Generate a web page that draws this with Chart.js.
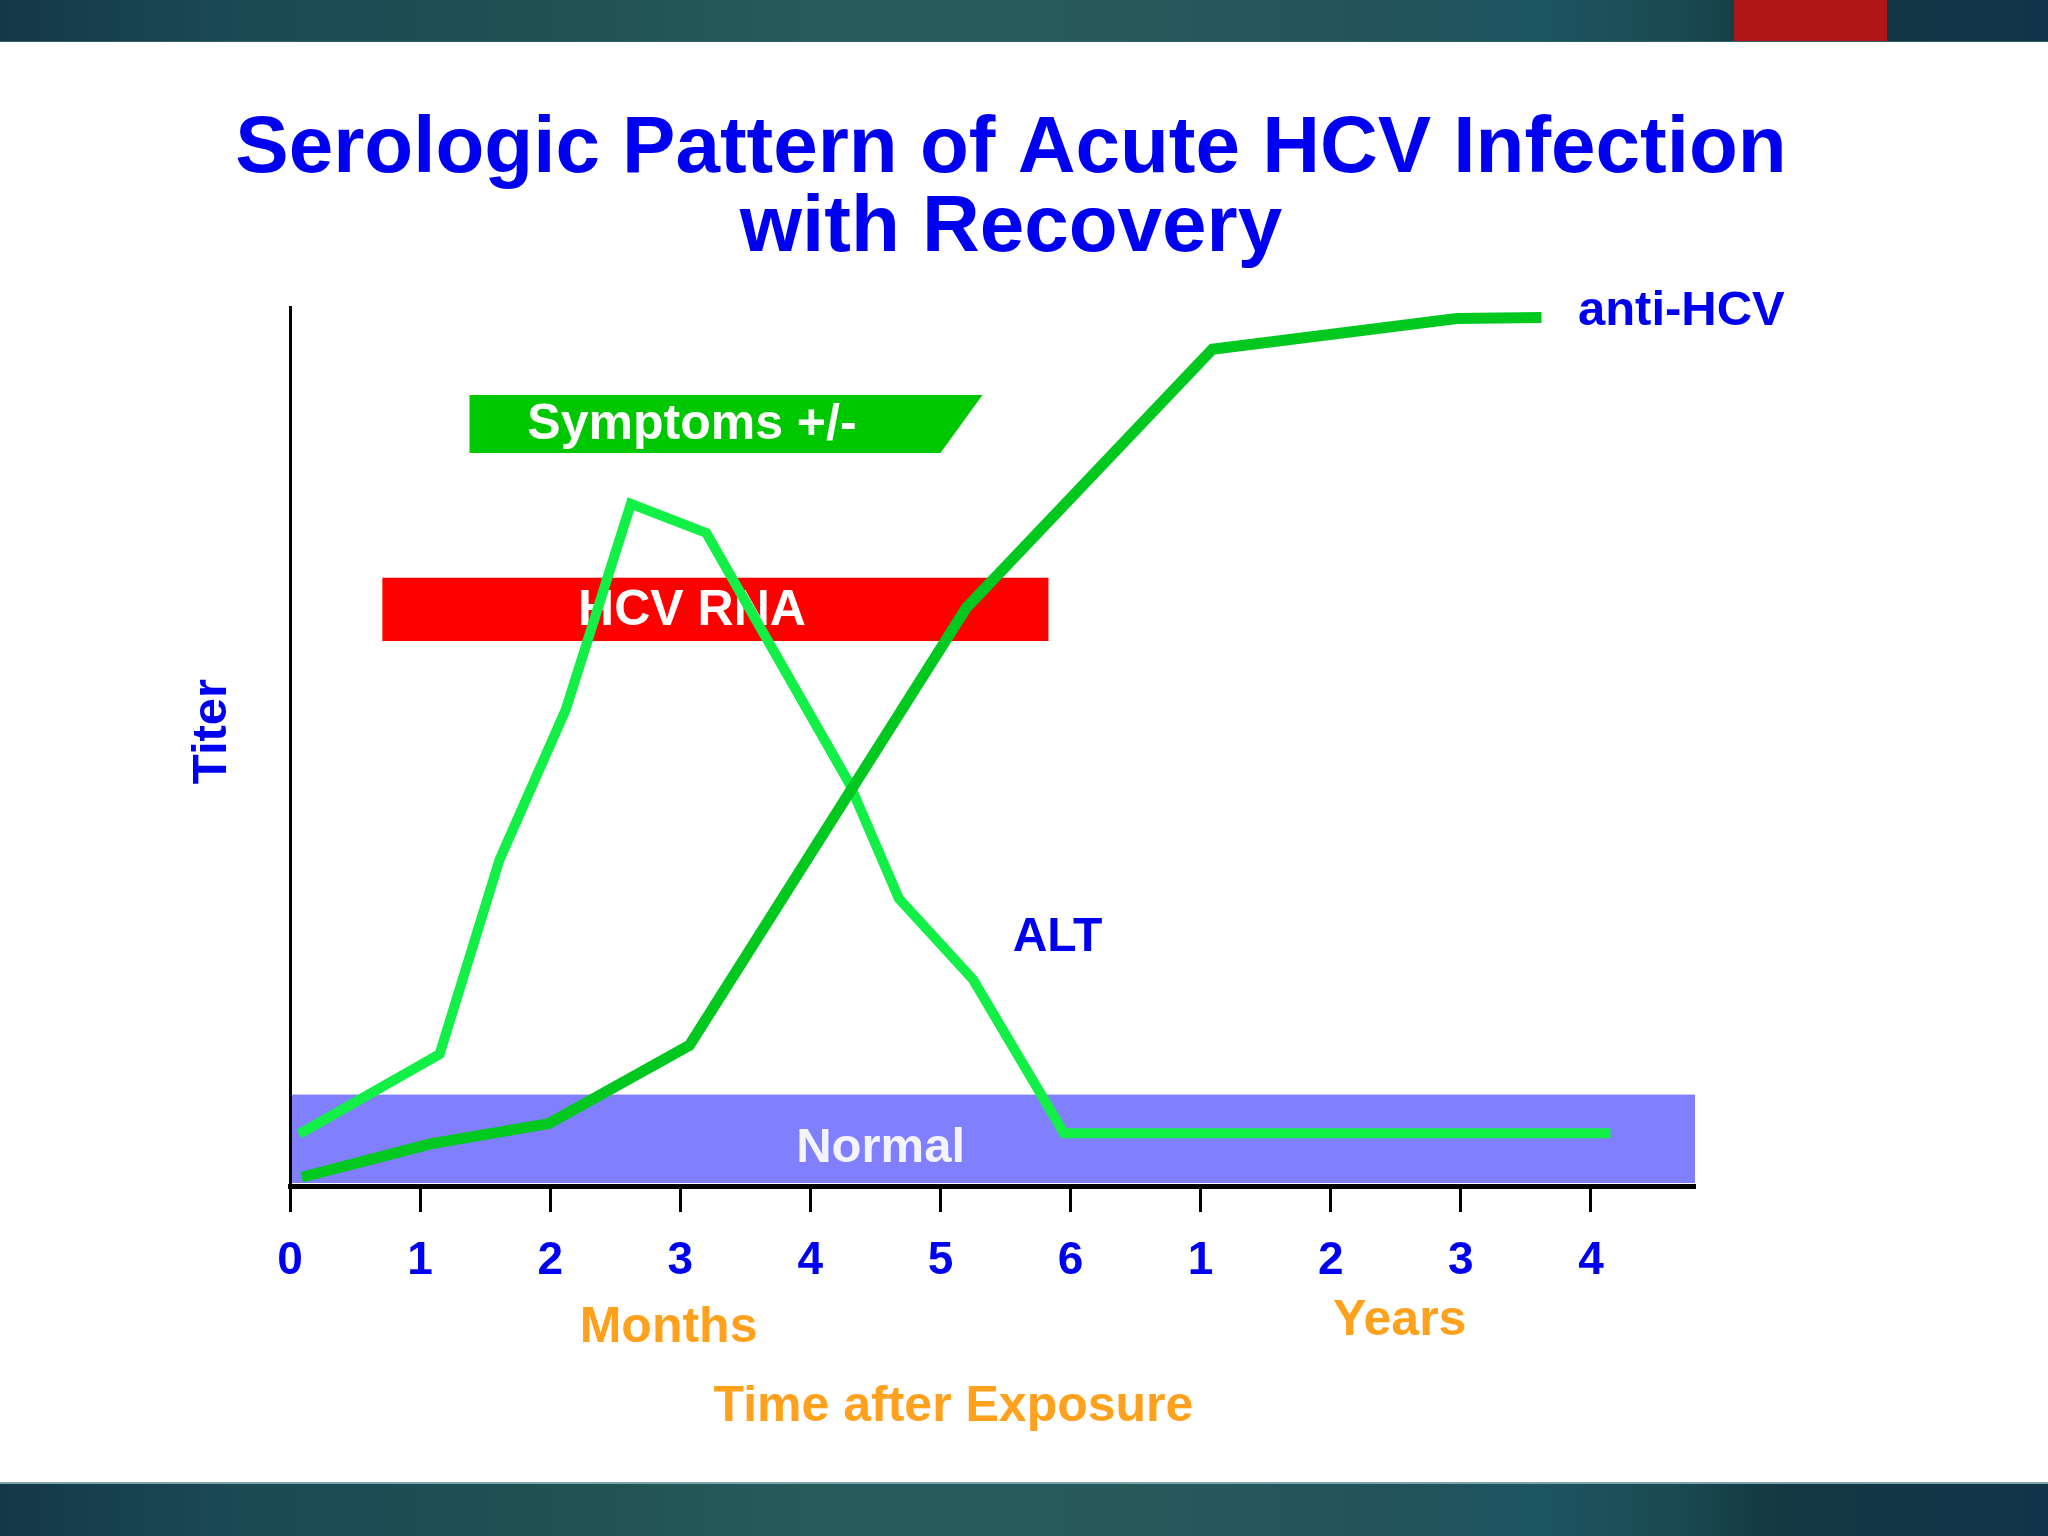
<!DOCTYPE html>
<html>
<head>
<meta charset="utf-8">
<script src="https://cdn.jsdelivr.net/npm/chart.js@4.4.1/dist/chart.umd.min.js"></script>
<style>
  html, body { margin: 0; padding: 0; background: #fff; }
  body { width: 2048px; height: 1536px; position: relative; overflow: hidden; }
  #chart { position: absolute; left: 0; top: 0; }
  .band {
    position: absolute; left: 0; width: 2048px;
    background: linear-gradient(90deg, #143847 0%, #1b4a55 12%, #1f5052 25%, #275b5c 40%, #285a5c 55%, #22535a 68%, #1d5562 75%, #1a4a52 82%, #143a42 86%, #133646 92%, #11344a 100%);
  }
  #top-band { top: 0; height: 41px; border-bottom: 1px solid #2c6066; }
  #bottom-band { top: 1482px; height: 54px; border-top: 2px solid #7fa3aa; }
  #red-block { position: absolute; top: 0; left: 1734px; width: 153px; height: 41px; background: #b11616; }
</style>
</head>
<body>
<div id="top-band" class="band"></div>
<div id="red-block"></div>
<canvas id="chart" width="2048" height="1536"></canvas>
<div id="bottom-band" class="band"></div>
<script>
// Axis ticks (0-6 months, then 1-4 years)
const tickValues = [0, 1, 2, 3, 4, 5, 6, 7, 8, 9, 10];
const tickLabels = ["0", "1", "2", "3", "4", "5", "6", "1", "2", "3", "4"];

// ALT curve
const altX = [0.07, 1.15, 1.61, 2.12, 2.62, 3.2, 4.3, 4.68, 5.25, 5.95, 10.15];
const altY = [5.9, 15.0, 37.1, 54.2, 77.6, 74.3, 45.8, 32.7, 23.5, 6.0, 6.0];

// anti-HCV curve
const antiX = [0.09, 1.08, 1.99, 3.07, 5.2, 7.09, 8.97, 9.62];
const antiY = [1.0, 4.8, 7.1, 16.0, 65.8, 95.2, 98.7, 98.8];

// Bands: time range and titer range
const normalTime = [0, 10.8];
const normalTiter = [0, 10.4];
const rnaTime = [0.71, 5.83];
const rnaTiter = [62.0, 69.2];
const symptomsTime = [1.38, 5.0];
const symptomsTiter = [83.4, 90.0];

const fontFamily = "'Liberation Sans', Arial, Helvetica, sans-serif";
const blue = "#0000f0";
const orange = "#ffa11c";

function toPoints(xs, ys) {
  return xs.map((x, i) => ({ x: x, y: ys[i] }));
}

function text(ctx, str, px, py, size, color, align = "center") {
  ctx.font = `bold ${size}px ${fontFamily}`;
  ctx.fillStyle = color;
  ctx.textAlign = align;
  ctx.textBaseline = "middle";
  ctx.fillText(str, px, py);
}

// bands + their labels, drawn under the curves
const bandsPlugin = {
  id: "bands",
  beforeDatasetsDraw(chart) {
    const { ctx, scales } = chart;
    const x = scales.x, y = scales.y;
    ctx.save();

    // Normal
    const nx0 = x.getPixelForValue(normalTime[0]) + 2;
    const nx1 = x.getPixelForValue(normalTime[1]);
    const ny0 = y.getPixelForValue(normalTiter[0]) - 3;
    const ny1 = y.getPixelForValue(normalTiter[1]);
    ctx.fillStyle = "#8080ff";
    ctx.fillRect(nx0, ny1, nx1 - nx0, ny0 - ny1);
    text(ctx, "Normal", x.getPixelForValue(4.54), y.getPixelForValue(4.3), 49, "#f4f4ff");

    // HCV RNA
    const rx0 = x.getPixelForValue(rnaTime[0]);
    const rx1 = x.getPixelForValue(rnaTime[1]);
    const ry0 = y.getPixelForValue(rnaTiter[0]);
    const ry1 = y.getPixelForValue(rnaTiter[1]);
    ctx.fillStyle = "#ff0000";
    ctx.fillRect(rx0, ry1, rx1 - rx0, ry0 - ry1);
    text(ctx, "HCV RNA", x.getPixelForValue(3.09), y.getPixelForValue(65.4), 50, "#ffffff");

    // Symptoms (slanted right edge)
    const sx0 = x.getPixelForValue(symptomsTime[0]);
    const sx1 = x.getPixelForValue(symptomsTime[1]);
    const sy0 = y.getPixelForValue(symptomsTiter[0]);
    const sy1 = y.getPixelForValue(symptomsTiter[1]);
    ctx.fillStyle = "#00c800";
    ctx.beginPath();
    ctx.moveTo(sx0, sy1);
    ctx.lineTo(sx1 + 42, sy1);
    ctx.lineTo(sx1, sy0);
    ctx.lineTo(sx0, sy0);
    ctx.closePath();
    ctx.fill();
    text(ctx, "Symptoms +/-", x.getPixelForValue(3.09), y.getPixelForValue(86.6), 50, "#ffffff");

    ctx.restore();
  },
  afterDraw(chart) {
    const { ctx, scales, chartArea } = chart;
    const x = scales.x, y = scales.y;
    ctx.save();

    // Title
    text(ctx, "Serologic Pattern of Acute HCV Infection", 1011, 150, 80, blue);
    text(ctx, "with Recovery", 1011, 229, 80, blue);

    // Curve labels
    text(ctx, "anti-HCV", x.getPixelForValue(9.9), y.getPixelForValue(99.5), 49, blue, "left");
    text(ctx, "ALT", x.getPixelForValue(5.9), y.getPixelForValue(28.2), 48, blue);

    // Axis titles
    const b = chartArea.bottom;
    text(ctx, "Months", x.getPixelForValue(2.91), b + 142, 50, orange);
    text(ctx, "Years", x.getPixelForValue(8.53), b + 135, 50, orange);
    text(ctx, "Time after Exposure", x.getPixelForValue(5.1), b + 221, 50, orange);

    ctx.translate(212, (chartArea.top + chartArea.bottom) / 2 - 15);
    ctx.rotate(-Math.PI / 2);
    text(ctx, "Titer", 0, 0, 49, blue);

    ctx.restore();
  },
};

const ctx = document.getElementById("chart").getContext("2d");

new Chart(ctx, {
  type: "line",
  data: {
    datasets: [
      {
        label: "anti-HCV",
        data: toPoints(antiX, antiY),
        borderColor: "#00c81e",
        borderWidth: 11,
        pointRadius: 0,
        tension: 0,
        fill: false,
      },
      {
        label: "ALT",
        data: toPoints(altX, altY),
        borderColor: "#12ef46",
        borderWidth: 10,
        pointRadius: 0,
        tension: 0,
        fill: false,
      },
    ],
  },
  options: {
    responsive: false,
    animation: false,
    events: [],
    layout: {
      padding: { left: 290, right: 353, top: 307, bottom: 260 },
    },
    scales: {
      x: {
        type: "linear",
        min: 0,
        max: 10.8,
        afterBuildTicks: (scale) => {
          scale.ticks = tickValues.map((v) => ({ value: v }));
        },
        afterFit: (scale) => {
          scale.height = 90;
        },
        grid: {
          drawOnChartArea: false,
          drawTicks: true,
          tickLength: 26,
          tickWidth: 3,
          tickColor: "#000",
        },
        border: { display: true, color: "#000", width: 5 },
        ticks: {
          autoSkip: false,
          maxRotation: 0,
          padding: 22,
          color: blue,
          font: { family: fontFamily, size: 46, weight: "bold" },
          callback: (value, index) => tickLabels[index],
        },
      },
      y: {
        min: 0,
        max: 100,
        afterFit: (scale) => {
          scale.width = 0;
        },
        grid: { display: false },
        border: { display: true, color: "#000", width: 3 },
        ticks: { display: false },
      },
    },
    plugins: {
      legend: { display: false },
      tooltip: { enabled: false },
    },
  },
  plugins: [bandsPlugin],
});
</script>
</body>
</html>
